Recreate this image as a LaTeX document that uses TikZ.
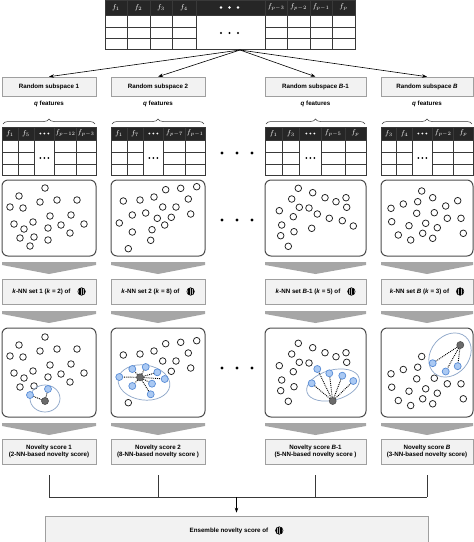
\documentclass[tikz,border=0pt]{standalone}
\usepackage{fontspec}
\setmainfont{Liberation Sans}
\usepackage{tikz}
\usetikzlibrary{arrows.meta,positioning,calc,decorations.pathreplacing}

\definecolor{nbfill}{RGB}{170,201,243}
\definecolor{nbline}{RGB}{88,140,214}
\definecolor{hullline}{RGB}{140,165,200}

% striped marker of the test point
\newcommand{\qmark}{\tikz[baseline=-2pt]{%
  \begin{scope}
    \clip (0pt,0pt) circle[radius=3.8pt];
    \fill[gray!60] (-4pt,-4pt) rectangle (4pt,4pt);
    \foreach \s in {-2.6pt,-0.9pt,0.8pt,2.5pt}
      \fill[black] (\s-0.5pt,-4pt) rectangle (\s+0.5pt,4pt);
  \end{scope}
  \draw[black,line width=0.5pt] (0pt,0pt) circle[radius=3.8pt];}}

\begin{document}
\begin{tikzpicture}[x=1pt,y=-1pt]
        % Define styles
        \tikzstyle{labelbox} = [draw=gray!75, line width=0.6pt, fill=gray!10, minimum height=19pt, align=center, inner sep=1pt, font=\bfseries\fontsize{6.2}{7.6}\selectfont]
        \tikzstyle{plain} = [font=\bfseries\fontsize{6.2}{7.6}\selectfont, inner sep=1pt]
        \tikzstyle{grid} = [draw=gray!45!black, line width=0.5pt]
        \tikzstyle{hdr} = [fill=black!85]
        \tikzstyle{hdrtxt} = [text=white, font=\fontsize{7}{7}\selectfont, inner sep=0pt]
        \tikzstyle{scatbox} = [draw=gray!60!black, line width=1pt, rounded corners=6pt, fill=white]
        \tikzstyle{chev} = [fill=gray!70]
        \tikzstyle{dot} = [draw=gray!25!black, line width=0.75pt, fill=white]
        \tikzstyle{nbdot} = [circle, draw=nbline, line width=0.7pt, fill=nbfill, minimum size=7pt, inner sep=0pt]
        \tikzstyle{query} = [circle, draw=black!70, line width=0.6pt, fill=black!58, minimum size=7pt, inner sep=0pt]
        \tikzstyle{hull} = [draw=hullline, line width=0.7pt]
        \tikzstyle{link} = [densely dotted, line width=0.9pt]
        \tikzstyle{arr} = [-{Stealth[length=5pt, width=3.5pt]}, line width=0.6pt]

        \useasboundingbox (0,0) rectangle (474,542);
        \clip (0,0) rectangle (474,542);

        % Full data table
        \fill[hdr] (105,0) rectangle (355,15);
        \draw[grid] (105,0) rectangle (355,49);
        \foreach \x in {127,150,172,196,265,287,310,332}
            \draw[grid] (\x,0) -- (\x,49);
        \draw[grid] (105,15) -- (355,15);
        \foreach \y in {27,38} {
            \draw[grid] (105,\y) -- (196,\y);
            \draw[grid] (265,\y) -- (355,\y);
        }
        \foreach \x/\t [count=\n] in {116/f_1,138.5/f_2,161/f_3,184/f_4,276/f_{p-3},298.5/f_{p-2},321/f_{p-1},343.5/f_p}
            \node[hdrtxt] (tf\n) at (\x,7.5) {$\t$};
        \foreach \x in {221,229.5,238} {
            \fill[white] (\x,7.5) circle[radius=1.3pt];
            \fill (\x,33) circle[radius=1.1pt];
        }
        \coordinate (src) at (240,50);

        % One column per random subspace
        \foreach \i/\lx/\rx/\sub/\kk/\nl/\fa/\fb/\fc/\fd in {
                1/2/96/1/2/{(2-NN-based novelty score)}/f_1/f_5/f_{p-12}/f_{p-3},
                2/111/205/2/8/{(8-NN-based novelty score )}/f_1/f_7/f_{p-7}/f_{p-1},
                3/265/366/\textit{B}-1/5/{(5-NN-based novelty score )}/f_1/f_3/f_{p-5}/f_p,
                4/381/473/\textit{B}/3/{(3-NN-based novelty score)}/f_3/f_4/f_{p-2}/f_p} {
            \pgfmathsetmacro\cx{(\lx+\rx)/2}
            \pgfmathsetmacro\wx{\rx-\lx}
            \node[labelbox, minimum width=\wx pt] (rs\i) at (\cx,86.5) {Random subspace \sub};
            \draw[arr] (src) -- (rs\i.north);
            \node[plain] (qf\i) at (\cx,104) {\textit{q} features};
            \draw[grid, decorate, decoration={brace, amplitude=5pt}] (\lx+1,124) -- (\rx-1,124);

            % subspace table
            \pgfmathsetmacro\xa{\lx+0.17*\wx}
            \pgfmathsetmacro\xb{\lx+0.34*\wx}
            \pgfmathsetmacro\xc{\lx+0.56*\wx}
            \pgfmathsetmacro\xd{\lx+0.79*\wx}
            \fill[hdr] (\lx,127) rectangle (\rx,140);
            \draw[grid] (\lx,127) rectangle (\rx,175);
            \foreach \x in {\xa,\xb,\xc,\xd}
                \draw[grid] (\x,127) -- (\x,175);
            \draw[grid] (\lx,140) -- (\rx,140);
            \foreach \y in {152,164} {
                \draw[grid] (\lx,\y) -- (\xb,\y);
                \draw[grid] (\xc,\y) -- (\rx,\y);
            }
            \node[hdrtxt] (ha\i) at ({(\lx+\xa)/2},133.5) {$\fa$};
            \node[hdrtxt] (hb\i) at ({(\xa+\xb)/2},133.5) {$\fb$};
            \node[hdrtxt] (hc\i) at ({(\xc+\xd)/2},133.5) {$\fc$};
            \node[hdrtxt] (hd\i) at ({(\xd+\rx)/2},133.5) {$\fd$};
            \foreach \d in {-4,0,4} {
                \fill[white] ({(\xb+\xc)/2+\d},133.5) circle[radius=1pt];
                \fill ({(\xb+\xc)/2+\d},158) circle[radius=1pt];
            }

            % scatter panels, arrows and labels
            \draw[scatbox] (\lx,180) rectangle (\rx,256);
            \draw[scatbox] (\lx,328) rectangle (\rx,417);
            \foreach \ty in {262,311,423}
                \fill[chev] (\lx,\ty) -- (\rx,\ty) -- (\rx,\ty+3) -- (\cx,\ty+12) -- (\lx,\ty+3) -- cycle;
            \node[labelbox, minimum width=\wx pt, minimum height=25pt] (kn\i) at (\cx,291.5)
                {\textit{k}-NN set \sub\ (\textit{k} = \kk) of\hspace{7pt}\qmark};
            \node[labelbox, minimum width=\wx pt, minimum height=25pt] (ns\i) at (\cx,451.5)
                {Novelty score \sub\\\nl};
            \coordinate (drop\i) at ($(ns\i.south)+(0,11)$);
        }

        % Subspace 1
        \foreach \x/\y in {45/188,19/196,10/207,23/208,40/202,57/200,77/200,50/216,71/215,33/222,14/224,24/229,48/228,61/225,84/224,20/238,34/237,70/233} {
            \draw[dot] (\x,\y) circle[radius=3.3pt];
            \draw[dot] (\x,\y+149) circle[radius=3.3pt];
        }
        \foreach \x/\y in {48/240,30/246}
            \draw[dot] (\x,\y) circle[radius=3.3pt];
        \begin{scope}[shift={(0,149)}]
            \draw[hull] (45,249.5) ellipse[x radius=15pt, y radius=13.5pt];
            \node[query] (q1) at (45,252) {};
            \foreach \x/\y [count=\n] in {48/240,30/246} {
                \node[nbdot] (n1-\n) at (\x,\y) {};
                \draw[link] (q1) -- (n1-\n);
            }
        \end{scope}

        % Subspace 2
        \foreach \x/\y in {165.7/189.7,180.7/188.3,196.7/186.7,123.3/201,140/200,154/197,188.3/199,162.7/207,176/207,171.3/217.3,190.7/214,128.3/248.7} {
            \draw[dot] (\x,\y) circle[radius=3.3pt];
            \draw[dot] (\x,\y+154) circle[radius=3.3pt];
        }
        \foreach \x/\y in {132.3/215,145.7/213,157.3/218.3,119.3/223,164.7/225,132.3/232,152/229.7,150.7/240.3}
            \draw[dot] (\x,\y) circle[radius=3.3pt];
        \begin{scope}[shift={(0,154)}]
            \draw[hull] (144,228.5) ellipse[x radius=26pt, y radius=17.5pt, rotate=-8];
            \node[query] (q2) at (140,223.3) {};
            \foreach \x/\y [count=\n] in {132.3/215,145.7/213,157.3/218.3,119.3/223,164.7/225,132.3/232,152/229.7,150.7/240.3} {
                \node[nbdot] (n2-\n) at (\x,\y) {};
                \draw[link] (q2) -- (n2-\n);
            }
        \end{scope}

        % Subspace B-1
        \foreach \x/\y in {298.3/188.3,312.7/192.7,291.7/199,325/197.7,336/201.7,346/197.7,299.3/207.3,309/208,346.7/207.3,279.3/210.7,293.3/216.7,281.7/225,280.7/235.7,294/231.7,288.3/246.3} {
            \draw[dot] (\x,\y) circle[radius=3.3pt];
            \draw[dot] (\x,\y+155) circle[radius=3.3pt];
        }
        \foreach \x/\y in {317.3/214,329.3/218.3,342.3/220.7,353.3/226,311.7/228.3}
            \draw[dot] (\x,\y) circle[radius=3.3pt];
        \begin{scope}[shift={(0,155)}]
            \draw[hull] (333,230) ellipse[x radius=27pt, y radius=15pt, rotate=15];
            \node[query] (q3) at (332.7,246) {};
            \foreach \x/\y [count=\n] in {317.3/214,329.3/218.3,342.3/220.7,353.3/226,311.7/228.3} {
                \node[nbdot] (n3-\n) at (\x,\y) {};
                \draw[link] (q3) -- (n3-\n);
            }
        \end{scope}

        % Subspace B
        \foreach \x/\y in {421.7/191,403.3/204,417.7/201.7,391/208.3,416.7/213.3,434.3/212.7,391.7/221.7,447.3/218.3,461/218.3,409/225.7,425.7/223.3,437.3/227.7,398.3/235,422.7/233.3,463.3/233.3,410.7/240,432.7/238.3} {
            \draw[dot] (\x,\y) circle[radius=3.3pt];
            \draw[dot] (\x,\y+165.5) circle[radius=3.3pt];
        }
        \foreach \x/\y in {432.7/197.7,445.7/206,457.7/200.7}
            \draw[dot] (\x,\y) circle[radius=3.3pt];
        \begin{scope}[shift={(0,165.5)}]
            \draw[hull] (450,189.5) ellipse[x radius=24pt, y radius=19pt, rotate=50];
            \node[query] (q4) at (460.3,179.5) {};
            \foreach \x/\y [count=\n] in {432.7/197.7,445.7/206,457.7/200.7} {
                \node[nbdot] (n4-\n) at (\x,\y) {};
                \draw[link] (q4) -- (n4-\n);
            }
        \end{scope}

        % Omitted subspaces
        \foreach \y in {153,220,368}
            \foreach \x in {222,237,252}
                \fill (\x,\y) circle[radius=1.6pt];

        % Ensemble
        \node[labelbox, minimum width=383pt, minimum height=30pt] (ens) at (236.5,531)
            {\raisebox{3pt}{Ensemble novelty score of\hspace{7pt}\qmark}};
        \coordinate (bar) at (236.5,497);
        \foreach \i in {1,...,4}
            \draw[grid] (drop\i) -- (drop\i |- bar);
        \draw[grid] (drop1 |- bar) -- (drop4 |- bar);
        \draw[arr, shorten >=3pt] (bar) -- (ens.north);
\end{tikzpicture}
\end{document}
